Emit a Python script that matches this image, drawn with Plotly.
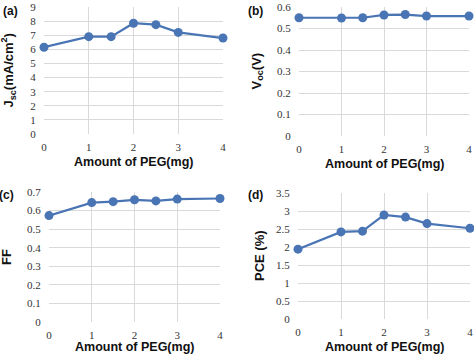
import plotly.graph_objects as go

peg = [0, 1, 1.5, 2, 2.5, 3, 4]
jsc = [6.15, 6.9, 6.9, 7.85, 7.75, 7.2, 6.8]
voc = [0.550, 0.549, 0.550, 0.563, 0.565, 0.558, 0.558]
ff = [0.573, 0.643, 0.648, 0.658, 0.652, 0.662, 0.665]
pce = [1.94, 2.42, 2.44, 2.89, 2.83, 2.65, 2.52]

panel_labels = ["(a)", "(b)", "(c)", "(d)"]
y_titles = ["J<sub>sc</sub>(mA/cm<sup>2</sup>)", "V<sub>oc</sub>(V)", "FF", "PCE (%)"]
x_title = "Amount of PEG(mg)"
y_ranges = [[0, 9], [0, 0.6], [0, 0.7], [0, 3.5]]
y_dticks = [1, 0.1, 0.1, 0.5]
series = [jsc, voc, ff, pce]

W, H = 474, 356
# plot areas in pixels: (left, right, top, bottom)
boxes = [(44, 223, 7, 134), (299, 469, 7, 136), (49, 220, 192, 322), (298, 470, 193, 319)]
ytitle_x = [8, 257, 6, 259]
xtitle_y = [162, 164, 347, 347]
label_pos = [(10, 11), (256, 11), (6, 195), (256, 195)]

COLOR = "#4a75b5"
GRID = "#d9d9d9"
SERIF = "'Liberation Serif', 'Times New Roman', serif"
SANS = "'Liberation Sans', Arial, sans-serif"

fig = go.Figure()
annotations = []
for i in range(4):
    l, r, t, b = boxes[i]
    xa = "x" if i == 0 else f"x{i+1}"
    ya = "y" if i == 0 else f"y{i+1}"
    fig.add_trace(go.Scatter(
        x=peg, y=series[i], xaxis=xa, yaxis=ya, mode="lines+markers",
        line=dict(color=COLOR, width=2.2), marker=dict(color=COLOR, size=9),
        cliponaxis=False, showlegend=False,
    ))
    axx = dict(domain=[l / W, r / W], range=[0, 4], dtick=1, tick0=0,
               showgrid=True, gridcolor=GRID, gridwidth=1, zeroline=False,
               showline=False, ticks="outside", ticklen=3, tickcolor="rgba(0,0,0,0)",
               anchor=ya, automargin=False,
               tickfont=dict(family=SERIF, size=11, color="#333"))
    axy = dict(domain=[1 - b / H, 1 - t / H], range=y_ranges[i], dtick=y_dticks[i], tick0=0,
               showgrid=True, gridcolor=GRID, gridwidth=1, zeroline=False,
               showline=False, ticks="outside", ticklen=5, tickcolor="rgba(0,0,0,0)",
               anchor=xa, automargin=False,
               tickfont=dict(family=SERIF, size=11, color="#333"))
    key = "" if i == 0 else str(i + 1)
    fig.update_layout(**{f"xaxis{key}": axx, f"yaxis{key}": axy})
    # x title
    annotations.append(dict(text=f"<b>{x_title}</b>", x=(l + r) / 2 / W, y=1 - xtitle_y[i] / H,
                            xref="paper", yref="paper", showarrow=False,
                            xanchor="center", yanchor="middle",
                            font=dict(family=SANS, size=12.5, color="#111")))
    # y title
    annotations.append(dict(text=f"<b>{y_titles[i]}</b>", x=ytitle_x[i] / W, y=1 - (t + b) / 2 / H,
                            xref="paper", yref="paper", showarrow=False, textangle=-90,
                            xanchor="center", yanchor="middle",
                            font=dict(family=SANS, size=13, color="#111")))
    # panel label
    lx, ly = label_pos[i]
    annotations.append(dict(text=f"<b>{panel_labels[i]}</b>", x=lx / W, y=1 - ly / H,
                            xref="paper", yref="paper", showarrow=False,
                            xanchor="center", yanchor="middle",
                            font=dict(family=SANS, size=12, color="#111")))

fig.update_layout(width=W, height=H, margin=dict(l=0, r=0, t=0, b=0),
                  paper_bgcolor="white", plot_bgcolor="white",
                  annotations=annotations)
fig.write_html("out.html", config={"displayModeBar": False},
               post_script="document.body.style.margin='0';document.body.style.overflow='hidden';")
